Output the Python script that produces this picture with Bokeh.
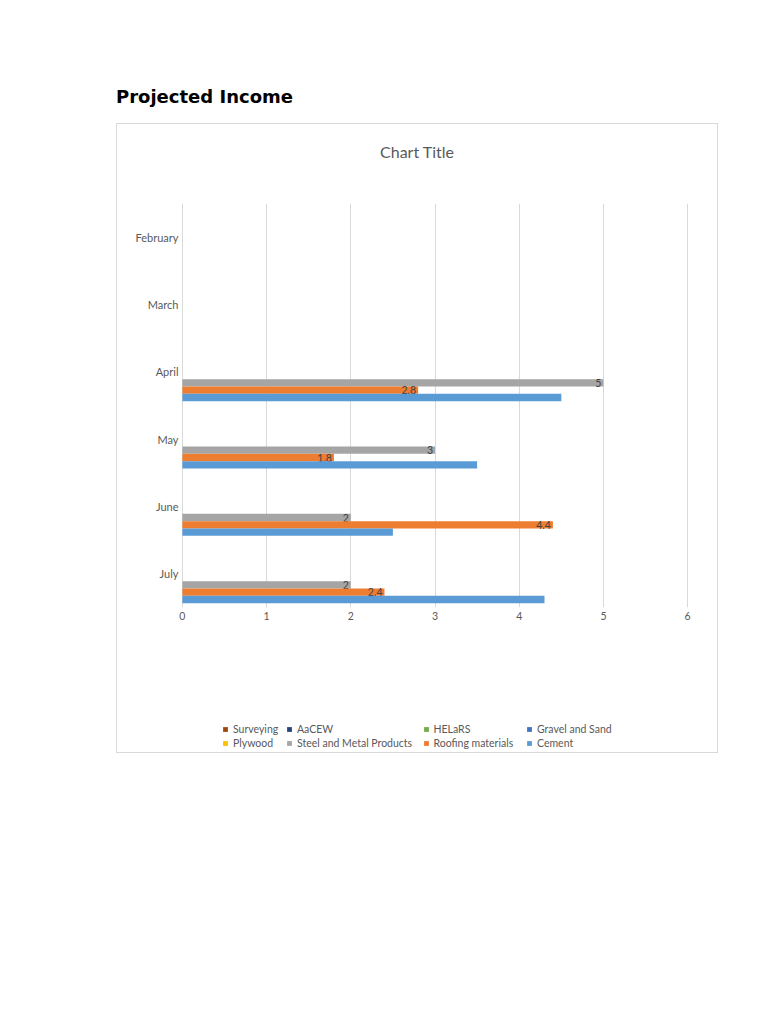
import numpy as np
from bokeh.plotting import figure
from bokeh.models import (ColumnDataSource, FactorRange, Range1d, Legend, LegendItem,
                          FixedTicker, Div)
from bokeh.layouts import column
from bokeh.transform import dodge
from bokeh.core.properties import value
from bokeh.embed import file_html
from bokeh.resources import INLINE

# ---------------- data ----------------
page_title = "Projected Income"
chart_title = "Chart Title"
months = ["February", "March", "April", "May", "June", "July"]
series_names = ["Surveying", "AaCEW", "HELaRS", "Gravel and Sand",
                "Plywood", "Steel and Metal Products", "Roofing materials", "Cement"]
series_colors = ["#9E480E", "#264478", "#70AD47", "#4472C4",
                 "#FFC000", "#A5A5A5", "#ED7D31", "#5B9BD5"]
surveying = [None, None, None, None, None, None]
aacew = [None, None, None, None, None, None]
helars = [None, None, None, None, None, None]
gravel_and_sand = [None, None, None, None, None, None]
plywood = [None, None, None, None, None, None]
steel = [None, None, 5, 3, 2, 2]
roofing = [None, None, 2.8, 1.8, 4.4, 2.4]
cement = [None, None, 4.5, 3.5, 2.5, 4.3]
labeled_series = ["Steel and Metal Products", "Roofing materials"]
x_ticks = [0, 1, 2, 3, 4, 5, 6]

all_series = [surveying, aacew, helars, gravel_and_sand, plywood, steel, roofing, cement]

GREY = "#595959"
FONT = "Lato"

# ---------------- geometry (page px) ----------------
BOX_L, BOX_T, BOX_W, BOX_H = 116, 123, 602, 630
PT_TOP, PT_H = 85, 24
TITLE_DIV_TOP, TITLE_DIV_H = 140, 24
FIG_T = TITLE_DIV_TOP + TITLE_DIV_H
FRAME_L, FRAME_T, FRAME_W, FRAME_H = 181, 203, 507, 404
FIG_B = 632
LEG_T, LEG_B = FIG_B, BOX_T + BOX_H
LEG_COL_X = [222, 286, 422.5, 526]   # page x of each legend column's swatch
LEG_BOTTOM = 749                      # page y of legend bottom edge

data = {"month": months}
for i, s in enumerate(all_series):
    key = f"s{i}"
    data[key] = np.array(s, dtype=float)
    data[key + "_lbl"] = ["" if v is None else f"{v:g}" for v in s]
source = ColumnDataSource(data)

fig_h = FIG_B - FIG_T
pad = 0.01
p = figure(y_range=FactorRange(factors=list(reversed(months))),
           x_range=Range1d(x_ticks[0] - pad, x_ticks[-1] + pad),
           width=BOX_W, height=fig_h,
           min_border_left=FRAME_L - BOX_L, min_border_top=FRAME_T - FIG_T,
           min_border_right=BOX_W - (FRAME_L - BOX_L) - FRAME_W,
           min_border_bottom=fig_h - (FRAME_T - FIG_T) - FRAME_H,
           output_backend="svg", toolbar_location=None,
           background_fill_color="white", border_fill_color=None, outline_line_color=None,
           margin=(0, 0, 0, 0))

n = len(series_names)
bar_h = 0.109
group = bar_h * n
for i, name in enumerate(series_names):
    off = group / 2 - bar_h * (i + 0.5)
    p.hbar(y=dodge("month", off, range=p.y_range), left=0, right=f"s{i}",
           height=bar_h, fill_color=series_colors[i], line_color=None, source=source)
    if name in labeled_series:
        p.text(x=f"s{i}", y=dodge("month", off, range=p.y_range), text=f"s{i}_lbl",
               source=source, text_align="right", text_baseline="middle", x_offset=-2,
               text_font=value(FONT), text_font_size="10.5px", text_color="#404040")

# axes
p.xaxis.ticker = FixedTicker(ticks=x_ticks)
p.xaxis.axis_line_color = None
p.xaxis.major_tick_line_color = None
p.xaxis.minor_tick_line_color = None
p.xaxis.major_tick_out = 0
p.xaxis.major_tick_in = 0
p.xaxis.major_label_standoff = 4
p.xaxis.major_label_text_font = FONT
p.xaxis.major_label_text_font_size = "10.5px"
p.xaxis.major_label_text_color = GREY

p.yaxis.axis_line_color = None
p.yaxis.major_tick_line_color = None
p.yaxis.major_tick_out = 0
p.yaxis.major_tick_in = 0
p.yaxis.major_label_standoff = 3
p.yaxis.major_label_text_font = FONT
p.yaxis.major_label_text_font_size = "11px"
p.yaxis.major_label_text_color = GREY

p.xgrid.ticker = FixedTicker(ticks=x_ticks)
p.xgrid.grid_line_color = "#D9D9D9"
p.ygrid.grid_line_color = None

# legend in its own small figure under the chart (frame aligned with the chart's frame);
# its proxy renderers have zero height so that only the legend swatches show
leg_h = LEG_B - LEG_T
lg = figure(width=BOX_W, height=leg_h, y_range=FactorRange(factors=months),
            x_range=Range1d(-3, -2),
            min_border=0, output_backend="svg", toolbar_location=None,
            background_fill_color=None, border_fill_color=None, outline_line_color=None,
            margin=(0, 0, 0, 0))
lg.axis.visible = False
lg.grid.visible = False
leg_renderers = [lg.hbar(y="month", left=0, right=f"s{i}", height=0,
                         fill_color=c, line_color=None, source=source)
                 for i, c in enumerate(series_colors)]
ncol = 4
for c in range(ncol):
    idx = [c, c + ncol]
    items = [LegendItem(label=series_names[k], renderers=[leg_renderers[k]]) for k in idx]
    lgd = Legend(items=items, orientation="vertical",
                 location=(LEG_COL_X[c] - FRAME_L, leg_h - (LEG_BOTTOM - LEG_T)),
                 glyph_width=6, glyph_height=6, label_height=12, label_standoff=5,
                 spacing=2, padding=0, margin=0,
                 label_text_font=FONT, label_text_font_size="10.5px",
                 label_text_color=GREY,
                 border_line_color=None, background_fill_alpha=0)
    lg.add_layout(lgd, "center")

title_div = Div(text=page_title, width=400, height=PT_H,
                margin=(PT_TOP, 0, 0, BOX_L),
                styles={"font-family": "DejaVu Sans", "font-weight": "bold",
                        "font-size": "18px", "line-height": f"{PT_H}px", "color": "black",
                        "white-space": "nowrap"})
chart_title_div = Div(text=chart_title, width=BOX_W, height=TITLE_DIV_H,
                      margin=(TITLE_DIV_TOP - BOX_T, 0, 0, 0),
                      styles={"font-family": FONT, "font-size": "16px",
                              "line-height": f"{TITLE_DIV_H}px", "color": GREY,
                              "text-align": "center", "width": f"{BOX_W}px"})
box = column(chart_title_div, p, lg, width=BOX_W,
             margin=(BOX_T - (PT_TOP + PT_H), 0, 0, BOX_L),
             styles={"outline": "1px solid #D9D9D9", "outline-offset": "-1px"})
page = column(title_div, box)

open("out.html", "w").write(file_html(page, INLINE))
